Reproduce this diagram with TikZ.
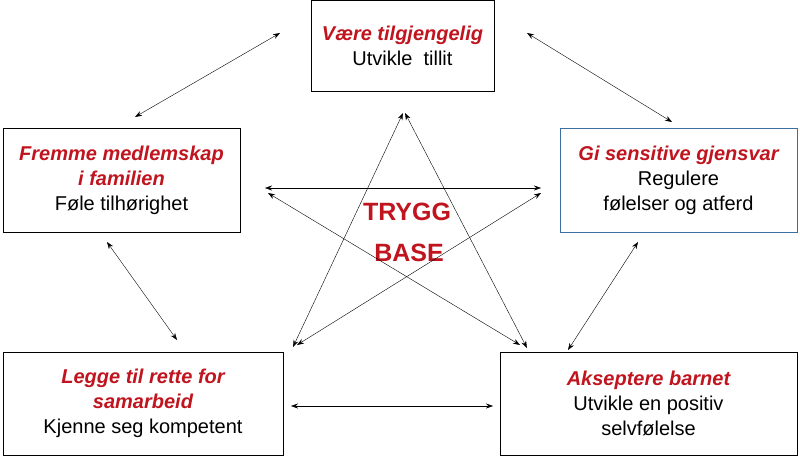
\documentclass[tikz,border=0pt]{standalone}
\usepackage{fontspec}
\setmainfont{Liberation Sans}
\usetikzlibrary{arrows.meta}

\definecolor{trygred}{RGB}{192,20,30}
\definecolor{boxblue}{RGB}{60,110,160}

\begin{document}
\begin{tikzpicture}[x=1pt, y=-1pt,
  box/.style={rectangle, draw, thick, align=center, font=\fontsize{20}{25}\selectfont},
  link/.style={{Stealth[length=7pt,width=5pt]}-{Stealth[length=7pt,width=5pt]}, thin},
  centre/.style={text=trygred, font=\fontsize{25}{28}\selectfont\bfseries}]
\useasboundingbox (0,0) rectangle (800,457);

% boxes
\node[box, minimum width=183pt, minimum height=91pt] (avail) at (402.5,46) {{\color{trygred}\bfseries\itshape Være tilgjengelig}\\Utvikle\ \ tillit};
\node[box, minimum width=237pt, minimum height=104pt] (member) at (121.5,180) {{\color{trygred}\bfseries\itshape Fremme medlemskap}\\{\color{trygred}\bfseries\itshape i familien}\\Føle tilhørighet};
\node[box, draw=boxblue, thin, minimum width=237pt, minimum height=104pt] (sens) at (678.5,180) {{\color{trygred}\bfseries\itshape Gi sensitive gjensvar}\\Regulere\\følelser og atferd};
\node[box, minimum width=280pt, minimum height=103pt] (coop) at (143,403.5) {{\color{trygred}\bfseries\itshape Legge til rette for}\\{\color{trygred}\bfseries\itshape samarbeid}\\Kjenne seg kompetent};
\node[box, minimum width=297pt, minimum height=103pt] (accept) at (648.5,403.5) {{\color{trygred}\bfseries\itshape Akseptere barnet}\\Utvikle en positiv\\selvfølelse};

% centre
\node[centre] (trygg) at (407,212) {TRYGG};
\node[centre] (base) at (409,253) {BASE};

% end points
\coordinate (a1) at (280,33);  \coordinate (a2) at (135,117);
\coordinate (b1) at (527,33);  \coordinate (b2) at (672,122);
\coordinate (c1) at (265,188); \coordinate (c2) at (541,188);
\coordinate (d1) at (107,242); \coordinate (d2) at (177,340);
\coordinate (e1) at (638,242); \coordinate (e2) at (568,350);
\coordinate (f1) at (291,406); \coordinate (f2) at (493,406);
\coordinate (s1) at (403,113); \coordinate (s2) at (293,347);
\coordinate (s3) at (405,113); \coordinate (s4) at (527,348);
\coordinate (s5) at (268,193); \coordinate (s6) at (520,345);
\coordinate (s7) at (541,193); \coordinate (s8) at (297,345);

% connectors
\draw[link] (a1) -- (a2);
\draw[link] (b1) -- (b2);
\draw[link] (c1) -- (c2);
\draw[link] (d1) -- (d2);
\draw[link] (e1) -- (e2);
\draw[link] (f1) -- (f2);
\draw[link] (s1) -- (s2);
\draw[link] (s3) -- (s4);
\draw[link] (s5) -- (s6);
\draw[link] (s7) -- (s8);
\end{tikzpicture}
\end{document}
